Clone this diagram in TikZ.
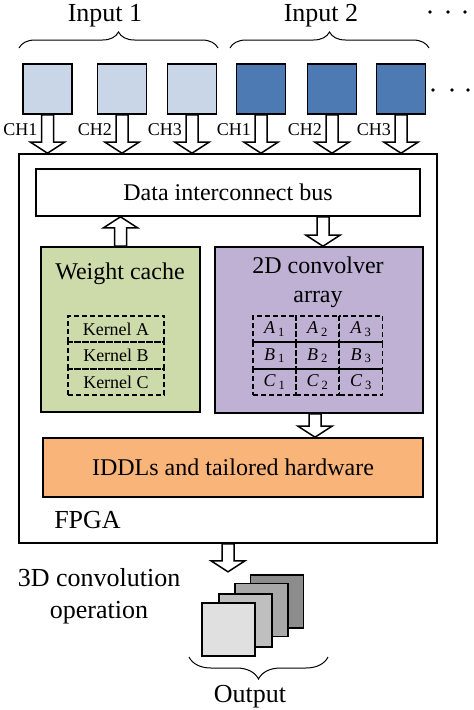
\documentclass[tikz,border=0pt]{standalone}
\usepackage{fontspec}
\setmainfont{Liberation Serif}
\usetikzlibrary{calc,decorations.pathreplacing}
\definecolor{inlight}{RGB}{200,214,232}
\definecolor{indark}{RGB}{78,122,180}
\definecolor{cachegreen}{RGB}{204,219,169}
\definecolor{convpurple}{RGB}{191,177,212}
\definecolor{iddlorange}{RGB}{249,180,122}
\newcommand{\midfont}{\fontsize{24}{29}\selectfont}
\newcommand{\bigfont}{\fontsize{26}{32}\selectfont}
\newcommand{\smallfont}{\fontsize{18}{20}\selectfont}
\newcommand{\hollowarrow}[2]{%
  \coordinate (hb) at ($(#2)!11pt!(#1)$);
  \draw[harrow] ($(#1)!6pt!90:(#2)$) -- ($(hb)!6pt!-90:(#1)$) -- ($(hb)!17pt!-90:(#1)$) -- (#2) -- ($(hb)!17pt!90:(#1)$) -- ($(hb)!6pt!90:(#1)$) -- ($(#1)!6pt!-90:(#2)$) -- cycle;}
\tikzset{
  box/.style={draw, line width=1.6pt, inner sep=0pt},
  insq/.style={box, minimum width=49pt, minimum height=50pt},
  outsq/.style={box, minimum width=53pt, minimum height=53pt},
  harrow/.style={draw, fill=white, line width=1.5pt, line join=miter},
  kbox/.style={draw, dash pattern=on 5pt off 3pt, line width=1.8pt, minimum width=96pt, minimum height=26.5pt, inner sep=0pt, font=\smallfont},
  cell/.style={kbox, minimum width=43pt},
  brc/.style={decorate, decoration={brace, amplitude=16pt}, line width=1pt},
}
\begin{document}
\begin{tikzpicture}[x=1pt,y=1pt,yscale=-1]
\useasboundingbox (0,0) rectangle (474,710);
% inputs
\foreach \n/\x/\c in {in1a/47.5/inlight, in1b/122/inlight, in1c/192/inlight, in2a/261/indark, in2b/332/indark, in2c/401/indark}
  \node[insq, fill=\c] (\n) at (\x,89) {};
\draw[brc] (19,48) -- (218,48);
\draw[brc] (230,48) -- (429,48);
\node[font=\bigfont, anchor=base] (in1lbl) at (105,21) {Input 1};
\node[font=\bigfont, anchor=base] (in2lbl) at (321,21) {Input 2};
\foreach \x in {430,448,465} \fill (\x,12) circle (1.8pt);
\foreach \x in {433,452,468} \fill (\x,90) circle (1.8pt);
% FPGA
\node[box, minimum width=418pt, minimum height=389pt] (fpga) at (228,348.5) {};
\node[box, minimum width=384pt, minimum height=47pt, font=\midfont] (bus) at (228,192.5) {Data interconnect bus};
\node[box, fill=cachegreen, minimum width=159pt, minimum height=165pt] (cache) at (120.5,329.5) {};
\node[box, fill=convpurple, minimum width=208pt, minimum height=166pt] (conv) at (319,330) {};
\node[box, fill=iddlorange, minimum width=380pt, minimum height=59pt, font=\midfont] (iddl) at (233,467.5) {IDDLs and tailored hardware};
\node[font=\bigfont, anchor=base] (fpgalbl) at (87.5,528) {FPGA};
\node[font=\midfont] (cachelbl) at (120,274) {Weight cache};
\node[font=\midfont, align=center] (convlbl) at (318,282.5) {2D convolver\\array};
\foreach \k/\y in {A/329,B/355.5,C/382}
  \node[kbox] (k\k) at (116,\y) {Kernel \k};
\foreach \r/\y in {A/329,B/355.5,C/382}
  \foreach \c/\x in {1/274.5,2/317.5,3/361}
    \node[cell] (\r\c) at (\x,\y) {\textit{\r}\,\textsubscript{\c}};
% arrows
\foreach \n/\c in {in1a/CH1, in1b/CH2, in1c/CH3, in2a/CH1, in2b/CH2, in2c/CH3}{
  \coordinate (\n tip) at (\n.south |- fpga.north);
  \hollowarrow{\n.south}{\n tip}
  \node[font=\smallfont, anchor=east, inner sep=1pt] (\n ch) at ($(\n.south)+(-9,15)$) {\c};
}
\coordinate (busup) at (cache.north |- bus.south);
\hollowarrow{cache.north}{busup}
\coordinate (busdn) at ($(bus.south -| conv.north)+(4,0)$);
\coordinate (convin) at (busdn |- conv.north);
\hollowarrow{busdn}{convin}
\coordinate (convout) at ($(conv.south)+(-4,0)$);
\coordinate (iddlin) at (convout |- iddl.north);
\hollowarrow{convout}{iddlin}
% output
\coordinate (optip) at ($(fpga.south)+(0,28)$);
\hollowarrow{fpga.south}{optip}
\foreach \n/\x/\y/\g in {o4/277/601.5/45, o3/261.5/610/34, o2/245.5/620.5/25, o1/228.5/629.5/12}
  \node[outsq, fill=black!\g] (\n) at (\x,\y) {};
\node[font=\bigfont, align=center] (oplbl) at (99,596) {3D convolution\\operation};
\draw[brc, decoration={amplitude=22pt}] (328,657) -- (189,657);
\node[font=\bigfont, anchor=base] (outlbl) at (250,702) {Output};
\end{tikzpicture}
\end{document}
